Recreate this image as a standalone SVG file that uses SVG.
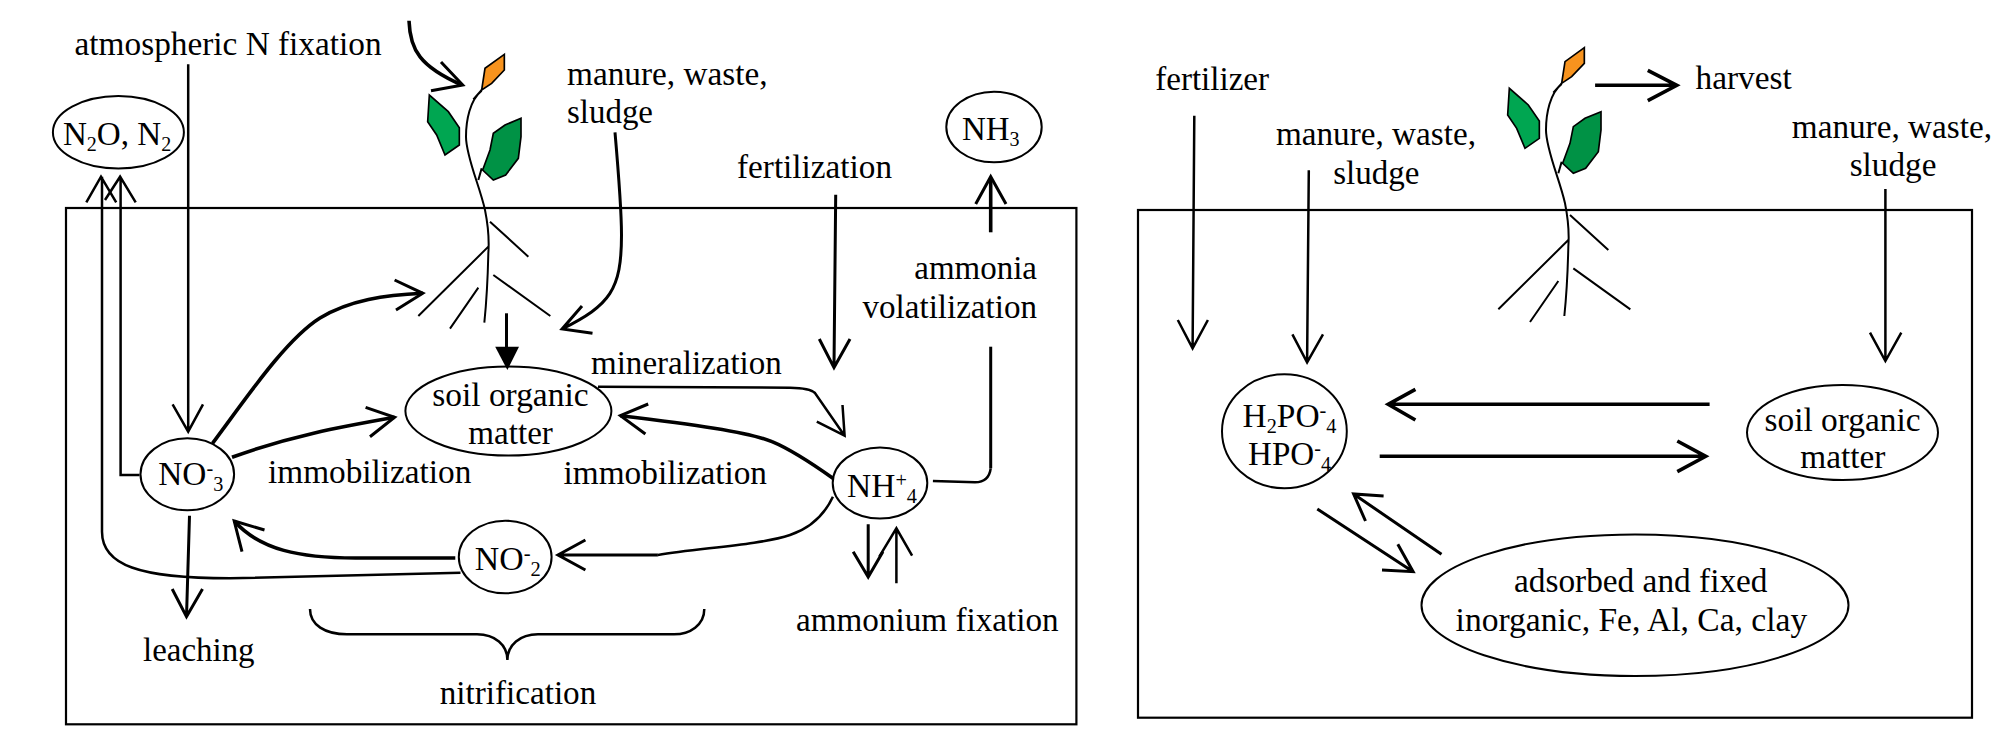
<svg xmlns="http://www.w3.org/2000/svg" xmlns:xlink="http://www.w3.org/1999/xlink" width="2009" height="729" viewBox="0 0 2009 729">
<style>
text{font-family:"Liberation Serif","Times New Roman",serif;font-size:33px;fill:#000}
.s{font-size:20px}
.box{fill:none;stroke:#000;stroke-width:2.2}
.n{fill:none;stroke:#000;stroke-width:2}
.c{fill:none;stroke:#000;stroke-width:2.5}
.t{fill:none;stroke:#000;stroke-width:3}
.b{fill:none;stroke:#000;stroke-width:3.6}
.l{stroke:#000;stroke-width:5}
.r{fill:none;stroke:#000;stroke-width:6}
</style>
<defs>
<g id="plant" transform="translate(390 0) scale(.33333)">
<polygon class="l" fill="#f7931e" points="343,163 285,205 275,270 305,250 343,210"/>
<polygon class="l" fill="#00a651" points="118,285 113,365 140,405 165,465 208,435 208,383 175,335"/>
<polygon class="l" fill="#009245" points="393,355 345,375 310,400 300,450 278,510 310,540 347,525 385,475 393,410"/>
<path class="r" d="M275,270L250,298M275,272C240,300 228,360 228,410C228,470 270,560 285,630C295,680 298,720 295,760C293,850 290,900 283,968M265,540L275,505M300,665L415,770M295,740L85,948M265,863L180,986M310,825L481,948"/>
</g>
</defs>
<rect width="2009" height="729" fill="#fff"/>
<g id="left-soil-box"><rect class="box" x="66" y="208" width="1010.4" height="516.3"/></g>
<g id="right-soil-box"><rect class="box" x="1138" y="210" width="834" height="507.7"/></g>
<g id="plant-left"><use href="#plant" xlink:href="#plant"/></g>
<g id="plant-right"><use href="#plant" xlink:href="#plant" transform="translate(1080 -6.67)"/></g>
<g id="connectors">
<path class="c" d="M188.2,64.3V431M172.6,404.3L188.2,431.7L203,404.3"/>
<path class="b" d="M409,20.7C410,50 420,66.7 461.7,85"/><path class="t" d="M441,62L462.7,85L431,90.7"/>
<path class="c" d="M102,176.7V531.7C102,565 139,578.3 230,578.3L460.5,572.7M86.3,202.3L101,176.7L116.2,202.3"/>
<path class="c" d="M120.6,176.7V475H139.6M105,200L120.1,176.7L135.7,202.3"/>
<path class="b" d="M212.5,443.3C245,400 285,340 320,318C350,300 385,295 422.8,293.3"/><path class="t" d="M394.6,280L422.8,293.3L396,310"/>
<path class="b" d="M232,457.3C290,436 340,427 394.6,417.3"/><path class="t" d="M365.6,407.3L394.6,417.3L370,436.7"/>
<path class="t" d="M506.5,313.3V350"/><polygon points="495.2,346.7 519,346.7 507.4,370"/>
<path class="t" d="M615,132.3C620,190 621.5,215 621.5,235C621.5,290 610,305 562,329M582,306L562.1,329L592.5,333.3"/>
<path class="c" d="M598,386.7L790,387.7Q810,388 815,393L844.6,435.7M842.5,405L844.6,435.7L816.8,421.7"/>
<path class="b" d="M832.9,478.3C800,455 780,445 772,441.7C750,432 690,424 620.4,415.7"/><path class="t" d="M648.2,404L620.4,415.7L645.4,434"/>
<path class="c" d="M832.9,496.7C822,520 805,530 790,535C760,545 700,548 657.9,555"/><path class="t" d="M657.9,555H558M585.4,540L558,555L585.4,570"/>
<path class="b" d="M455.3,558H355.6C300,558 260,550 234.2,521"/><path class="t" d="M264.5,530L234.2,521L242,551.7"/>
<path class="t" d="M189.5,515.7L186.5,616.7M172.2,589L186.5,616.7L202.5,589"/>
<path class="c" d="M310,609C310,625 325,634.3 347,634.3H477C495,634.3 507.4,645 507.4,660C507.4,645 520,634.3 538,634.3H674C690,634.3 704.3,625 704.3,609"/>
<path class="c" d="M932.9,481L975,482.3Q989,482 990.7,468.3"/><path class="t" d="M990.7,468.3V346.7"/>
<path class="b" d="M990.7,232.3V178"/><path class="t" d="M975.7,204L990.7,176.7L1006,204"/>
<path class="t" d="M835.7,194.7L834,367M819.3,339L834,367.6L850,339"/>
<path class="t" d="M868.2,524.3V577M853.2,551.7L868.2,577L882.9,551.7"/>
<path class="c" d="M896.4,583.3V528.3M879.3,556.7L896.4,528.3L912.1,555.7"/>
<path class="c" d="M1194.3,115.7L1192.6,348M1177.8,320L1192.6,348.3L1207.9,320"/>
<path class="c" d="M1308.8,170.3L1307.1,362M1292.4,334.3L1307.1,362.3L1323,334.3"/>
<path class="b" d="M1595.1,85.3H1676M1647.8,70.3L1676.8,85.3L1647.8,100.7"/>
<path class="c" d="M1885.4,189V361M1870,332.7L1885.4,361L1901.3,332.7"/>
<path class="b" d="M1709.6,404.3H1389M1415.4,389.3L1388.2,404.3L1415.4,420"/>
<path class="b" d="M1379.7,456.3H1705M1677.3,441L1705.7,456.3L1677.3,471.7"/>
<path class="t" d="M1317.3,509L1413.1,571.7M1397.8,544.3L1413.1,571.7L1382,570"/>
<path class="t" d="M1441.5,554.3L1353.6,494M1383.6,496L1353.6,494L1365.5,521"/>
</g>
<g id="n2o"><ellipse class="n" cx="118.4" cy="132.3" rx="65.5" ry="36.3"/><text x="62.9" y="145" textLength="108.4" lengthAdjust="spacingAndGlyphs">N<tspan class="s" dy="6">2</tspan><tspan dy="-6">O, N</tspan><tspan class="s" dy="6">2</tspan></text></g>
<g id="nh3"><ellipse class="n" cx="994" cy="127" rx="47.7" ry="35.3"/><text x="962" y="140" textLength="57.6" lengthAdjust="spacingAndGlyphs">NH<tspan class="s" dy="6">3</tspan></text></g>
<g id="no3"><ellipse class="n" cx="187.3" cy="474.3" rx="46.8" ry="36"/><text x="158.3" y="485" textLength="65" lengthAdjust="spacingAndGlyphs">NO<tspan class="s" dy="-10">-</tspan><tspan class="s" dy="16">3</tspan></text></g>
<g id="no2"><ellipse class="n" cx="505.2" cy="557" rx="46.4" ry="36.3"/><text x="474.8" y="569.7" textLength="66" lengthAdjust="spacingAndGlyphs">NO<tspan class="s" dy="-10">-</tspan><tspan class="s" dy="16">2</tspan></text></g>
<g id="nh4"><ellipse class="n" cx="880" cy="483" rx="47.3" ry="35.5"/><text x="847" y="497.3" textLength="70" lengthAdjust="spacingAndGlyphs">NH<tspan class="s" dy="-10">+</tspan><tspan class="s" dy="16">4</tspan></text></g>
<g id="som-left"><ellipse class="n" cx="508.4" cy="411" rx="103" ry="44.5"/><text x="432.3" y="406" textLength="156.2" lengthAdjust="spacingAndGlyphs">soil organic</text><text x="468.3" y="443.8" textLength="84.6" lengthAdjust="spacingAndGlyphs">matter</text></g>
<g id="h2po4"><ellipse class="n" cx="1284.4" cy="431.3" rx="62.4" ry="57"/><text x="1242.5" y="426.7" textLength="94" lengthAdjust="spacingAndGlyphs">H<tspan class="s" dy="6">2</tspan><tspan dy="-6">PO</tspan><tspan class="s" dy="-10">-</tspan><tspan class="s" dy="16">4</tspan></text><text x="1248" y="465" textLength="83" lengthAdjust="spacingAndGlyphs">HPO<tspan class="s" dy="-10">-</tspan><tspan class="s" dy="16">4</tspan></text></g>
<g id="som-right"><ellipse class="n" cx="1842.5" cy="432.5" rx="95.5" ry="47.5"/><text x="1764.6" y="430.5" textLength="155.9" lengthAdjust="spacingAndGlyphs">soil organic</text><text x="1800.3" y="468" textLength="85.1" lengthAdjust="spacingAndGlyphs">matter</text></g>
<g id="adsorbed"><ellipse class="n" cx="1635" cy="605.2" rx="213.5" ry="70.8"/><text x="1514" y="592" textLength="253.5" lengthAdjust="spacingAndGlyphs">adsorbed and fixed</text><text x="1455.6" y="631" textLength="351.6" lengthAdjust="spacingAndGlyphs">inorganic, Fe, Al, Ca, clay</text></g>
<g id="labels">
<text x="74.6" y="55" textLength="307" lengthAdjust="spacingAndGlyphs">atmospheric N fixation</text>
<text x="567" y="84.5" textLength="200.5" lengthAdjust="spacingAndGlyphs">manure, waste,</text>
<text x="567" y="122.8" textLength="86" lengthAdjust="spacingAndGlyphs">sludge</text>
<text x="737" y="178" textLength="155" lengthAdjust="spacingAndGlyphs">fertilization</text>
<text x="914.3" y="278.8" textLength="122.7" lengthAdjust="spacingAndGlyphs">ammonia</text>
<text x="862.5" y="317.8" textLength="174.5" lengthAdjust="spacingAndGlyphs">volatilization</text>
<text x="591" y="373.5" textLength="190.8" lengthAdjust="spacingAndGlyphs">mineralization</text>
<text x="563.6" y="483.8" textLength="203.4" lengthAdjust="spacingAndGlyphs">immobilization</text>
<text x="268" y="482.8" textLength="203.4" lengthAdjust="spacingAndGlyphs">immobilization</text>
<text x="796" y="631" textLength="262.6" lengthAdjust="spacingAndGlyphs">ammonium fixation</text>
<text x="439.7" y="703.8" textLength="156.6" lengthAdjust="spacingAndGlyphs">nitrification</text>
<text x="143" y="660.8" textLength="111.6" lengthAdjust="spacingAndGlyphs">leaching</text>
<text x="1155.2" y="89.5" textLength="113.9" lengthAdjust="spacingAndGlyphs">fertilizer</text>
<text x="1275.9" y="144.8" textLength="200.1" lengthAdjust="spacingAndGlyphs">manure, waste,</text>
<text x="1333.2" y="183.8" textLength="86.2" lengthAdjust="spacingAndGlyphs">sludge</text>
<text x="1695.5" y="88.8" textLength="96.3" lengthAdjust="spacingAndGlyphs">harvest</text>
<text x="1791.8" y="137.5" textLength="200.2" lengthAdjust="spacingAndGlyphs">manure, waste,</text>
<text x="1849.7" y="175.8" textLength="86.7" lengthAdjust="spacingAndGlyphs">sludge</text>
</g>
</svg>
